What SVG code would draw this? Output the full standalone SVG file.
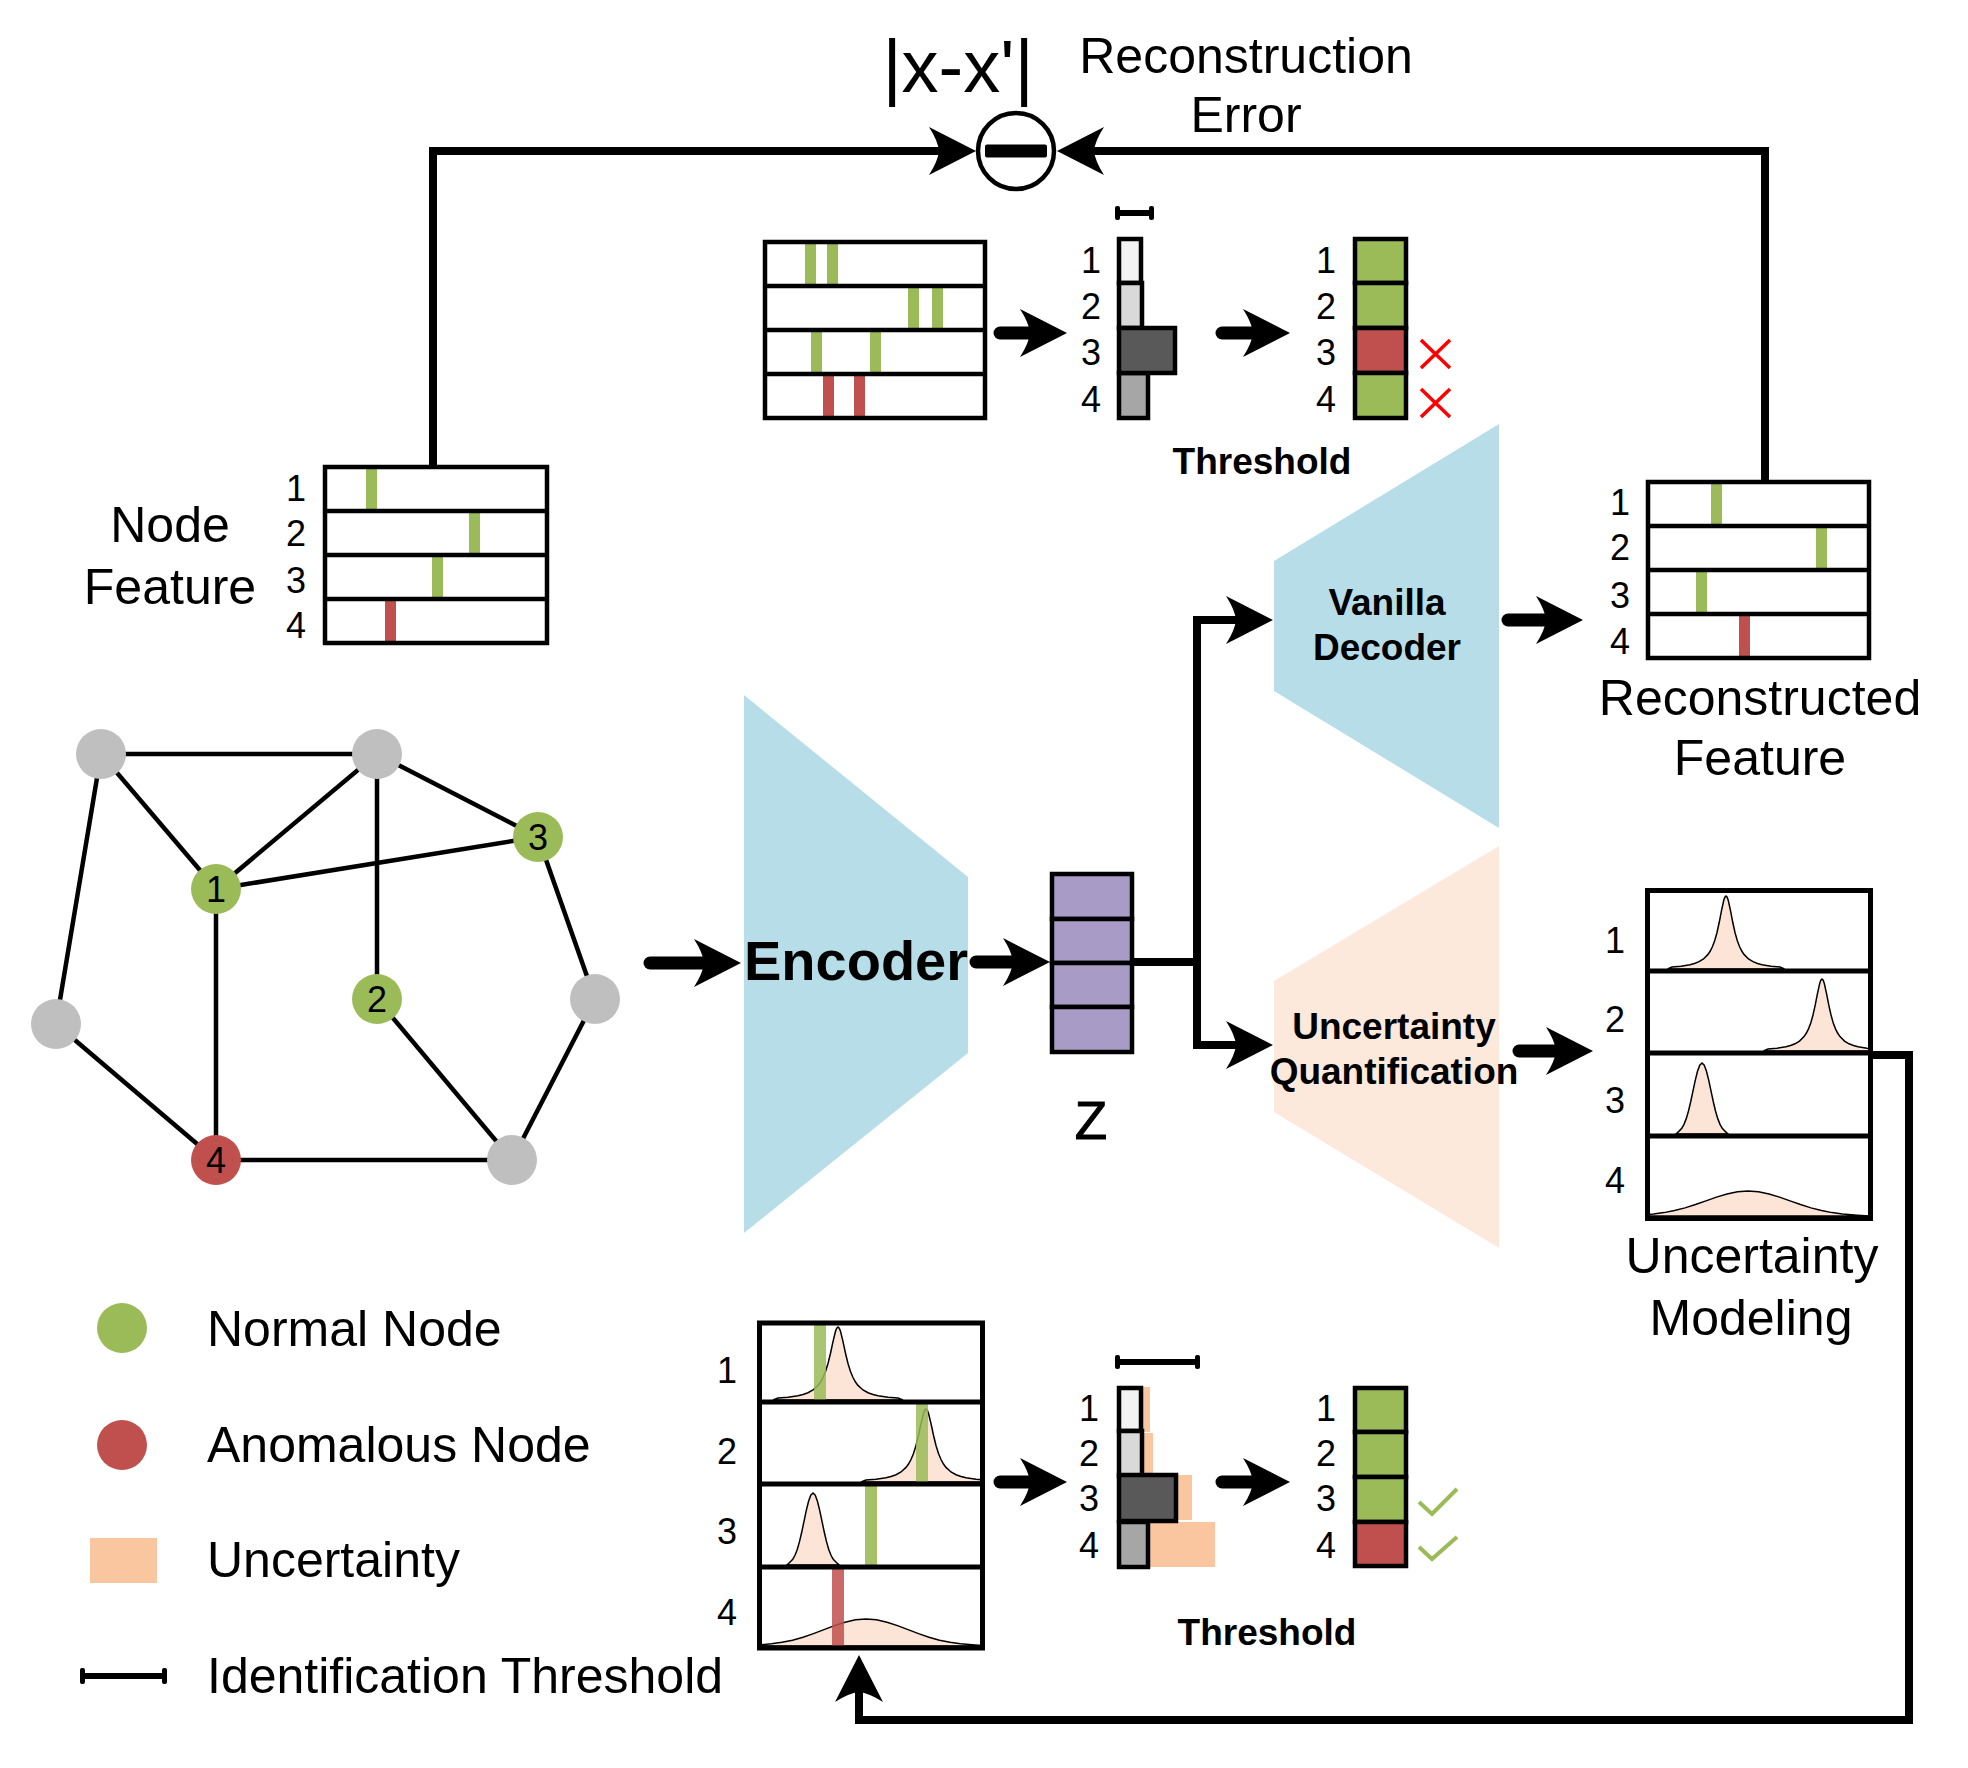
<svg xmlns="http://www.w3.org/2000/svg" xmlns:xlink="http://www.w3.org/1999/xlink" width="1968" height="1768" viewBox="0 0 1968 1768">
<style>
text{font-family:"Liberation Sans",Arial,sans-serif;fill:#000}
.lbl{font-size:50px}
.num{font-size:36px;text-anchor:middle}
.bold{font-weight:bold;font-size:37px;text-anchor:middle}
.box{fill:none;stroke:#000;stroke-width:4.5}
.row{stroke:#000;stroke-width:4.5}
.edge{stroke:#000;stroke-width:4.5}
.conn{fill:none;stroke:#000;stroke-width:8;stroke-linejoin:miter}
.blk{stroke:#000;stroke-width:13;stroke-linecap:round}
.g{fill:#9bbb59}
.r{fill:#c0504d}
.gray{fill:#bfbfbf}
.curve{fill:#fce4d6;stroke:#000;stroke-width:1.5}
.cell{stroke:#000;stroke-width:4.5}
.thr{stroke:#000;stroke-width:6}
</style>
<defs>
<path id="ah" d="M0,0 L-47,-24 Q-38,-10 -37,0 Q-38,10 -47,24 Z" fill="#000"/>
<path id="L" vector-effect="non-scaling-stroke" d="M-6.5,0 L-6,-0.027 L-5,-0.0385 L-4,-0.0588 L-3.5,-0.0755 L-3,-0.1 L-2.5,-0.1379 L-2,-0.2 L-1.75,-0.246 L-1.5,-0.3077 L-1.25,-0.3902 L-1,-0.5 L-0.75,-0.64 L-0.5,-0.8 L-0.25,-0.9412 L-0.125,-0.9846 L0,-1 L0.125,-0.9846 L0.25,-0.9412 L0.5,-0.8 L0.75,-0.64 L1,-0.5 L1.25,-0.3902 L1.5,-0.3077 L1.75,-0.246 L2,-0.2 L2.5,-0.1379 L3,-0.1 L3.5,-0.0755 L4,-0.0588 L5,-0.0385 L6,-0.027 L6.5,0 Z"/>
<path id="G" vector-effect="non-scaling-stroke" d="M-2.9,0 L-2.6,-0.034 L-2.25,-0.0796 L-2,-0.1353 L-1.75,-0.2163 L-1.5,-0.3247 L-1.25,-0.4578 L-1,-0.6065 L-0.75,-0.7548 L-0.5,-0.8825 L-0.25,-0.9692 L0,-1 L0.25,-0.9692 L0.5,-0.8825 L0.75,-0.7548 L1,-0.6065 L1.25,-0.4578 L1.5,-0.3247 L1.75,-0.2163 L2,-0.1353 L2.25,-0.0796 L2.6,-0.034 L2.9,0 Z"/>
<clipPath id="clipD"><rect x="760" y="1323" width="222" height="325"/></clipPath>
<clipPath id="clipU"><rect x="1648" y="891" width="222" height="327"/></clipPath>
</defs>

<!-- connectors -->
<g id="connectors">
  <path class="conn" d="M433,467 V151 H940"/>
  <use href="#ah" transform="translate(976,151)"/>
  <path class="conn" d="M1765,482 V151 H1090"/>
  <use href="#ah" transform="translate(1057,151) rotate(180)"/>
  <path class="conn" d="M1133,962 H1197"/>
  <path class="conn" d="M1240,620 H1197 V1045 H1240"/>
  <use href="#ah" transform="translate(1273,620)"/>
  <use href="#ah" transform="translate(1273,1045)"/>
  <path class="conn" d="M1871,1055 H1909 V1720 H859 V1690"/>
  <use href="#ah" transform="translate(859,1655) rotate(-90)"/>
  <!-- block arrows -->
  <line class="blk" x1="650" y1="963" x2="711" y2="963"/><use href="#ah" transform="translate(741,963)"/>
  <line class="blk" x1="976" y1="962" x2="1020" y2="962"/><use href="#ah" transform="translate(1050,962)"/>
  <line class="blk" x1="1000" y1="333" x2="1037" y2="333"/><use href="#ah" transform="translate(1067,333)"/>
  <line class="blk" x1="1222" y1="333" x2="1260" y2="333"/><use href="#ah" transform="translate(1290,333)"/>
  <line class="blk" x1="1508" y1="620" x2="1553" y2="620"/><use href="#ah" transform="translate(1583,620)"/>
  <line class="blk" x1="1519" y1="1051" x2="1563" y2="1051"/><use href="#ah" transform="translate(1593,1051)"/>
  <line class="blk" x1="1000" y1="1482" x2="1037" y2="1482"/><use href="#ah" transform="translate(1067,1482)"/>
  <line class="blk" x1="1222" y1="1482" x2="1260" y2="1482"/><use href="#ah" transform="translate(1290,1482)"/>
</g>

<!-- subtraction node -->
<g id="minus">
  <circle cx="1016" cy="151" r="38" fill="#fff" stroke="#000" stroke-width="4.5"/>
  <rect x="985" y="144.5" width="62" height="13" rx="2" fill="#000"/>
  <text x="958" y="92" font-size="74" text-anchor="middle">|x-x'|</text>
  <text class="lbl" x="1246" y="73" text-anchor="middle">Reconstruction</text>
  <text class="lbl" x="1246" y="132" text-anchor="middle">Error</text>
</g>

<!-- node feature -->
<g id="node-feature">
  <rect class="g" x="366" y="467" width="11" height="44"/>
  <rect class="g" x="469" y="511" width="11" height="44"/>
  <rect class="g" x="432" y="555" width="11" height="44"/>
  <rect class="r" x="385" y="599" width="11" height="44"/>
  <rect class="box" x="325" y="467" width="222" height="176"/>
  <line class="row" x1="325" y1="511" x2="547" y2="511"/>
  <line class="row" x1="325" y1="555" x2="547" y2="555"/>
  <line class="row" x1="325" y1="599" x2="547" y2="599"/>
  <text class="num" x="296" y="501">1</text>
  <text class="num" x="296" y="546">2</text>
  <text class="num" x="296" y="593">3</text>
  <text class="num" x="296" y="638">4</text>
  <text class="lbl" x="170" y="542" text-anchor="middle">Node</text>
  <text class="lbl" x="170" y="604" text-anchor="middle">Feature</text>
</g>

<!-- top error matrix -->
<g id="error-matrix">
  <rect class="g" x="805" y="242" width="11" height="44"/>
  <rect class="g" x="827" y="242" width="11" height="44"/>
  <rect class="g" x="908" y="286" width="11" height="44"/>
  <rect class="g" x="932" y="286" width="11" height="44"/>
  <rect class="g" x="811" y="330" width="11" height="44"/>
  <rect class="g" x="870" y="330" width="11" height="44"/>
  <rect class="r" x="823" y="374" width="11" height="44"/>
  <rect class="r" x="854" y="374" width="11" height="44"/>
  <rect class="box" x="765" y="242" width="220" height="176"/>
  <line class="row" x1="765" y1="286" x2="985" y2="286"/>
  <line class="row" x1="765" y1="330" x2="985" y2="330"/>
  <line class="row" x1="765" y1="374" x2="985" y2="374"/>
</g>

<!-- top threshold -->
<g id="threshold-top">
  <line class="thr" x1="1118" y1="213" x2="1151" y2="213"/>
  <rect x="1115" y="206" width="5" height="14" rx="2" fill="#000"/>
  <rect x="1149" y="206" width="5" height="14" rx="2" fill="#000"/>
  <rect class="cell" x="1119" y="239" width="22" height="44" fill="#f2f2f2"/>
  <rect class="cell" x="1119" y="283" width="23" height="45" fill="#d9d9d9"/>
  <rect class="cell" x="1119" y="373" width="29" height="45" fill="#a6a6a6"/>
  <rect class="cell" x="1119" y="328" width="56" height="45" fill="#595959"/>
  <text class="num" x="1091" y="273">1</text>
  <text class="num" x="1091" y="319">2</text>
  <text class="num" x="1091" y="365">3</text>
  <text class="num" x="1091" y="412">4</text>
  <text class="bold" x="1262" y="474">Threshold</text>
</g>

<!-- top result -->
<g id="result-top">
  <rect class="cell g" x="1355" y="239" width="51" height="44"/>
  <rect class="cell g" x="1355" y="283" width="51" height="45"/>
  <rect class="cell r" x="1355" y="328" width="51" height="45"/>
  <rect class="cell g" x="1355" y="373" width="51" height="45"/>
  <text class="num" x="1326" y="273">1</text>
  <text class="num" x="1326" y="319">2</text>
  <text class="num" x="1326" y="365">3</text>
  <text class="num" x="1326" y="412">4</text>
  <path d="M1421,340 L1450,368 M1450,340 L1421,368 M1421,389 L1450,417 M1450,389 L1421,417" stroke="#ff0000" stroke-width="3.5" fill="none"/>
</g>

<!-- graph -->
<g id="graph">
  <g class="edge">
    <line x1="101" y1="754" x2="377" y2="754"/>
    <line x1="101" y1="754" x2="216" y2="889"/>
    <line x1="101" y1="754" x2="56" y2="1024"/>
    <line x1="377" y1="754" x2="216" y2="889"/>
    <line x1="377" y1="754" x2="538" y2="837"/>
    <line x1="377" y1="754" x2="377" y2="999"/>
    <line x1="216" y1="889" x2="538" y2="837"/>
    <line x1="216" y1="889" x2="216" y2="1160"/>
    <line x1="538" y1="837" x2="595" y2="999"/>
    <line x1="56" y1="1024" x2="216" y2="1160"/>
    <line x1="216" y1="1160" x2="512" y2="1160"/>
    <line x1="377" y1="999" x2="512" y2="1160"/>
    <line x1="595" y1="999" x2="512" y2="1160"/>
  </g>
  <g id="n-tl"><circle class="gray" cx="101" cy="754" r="25"/></g>
  <g id="n-tm"><circle class="gray" cx="377" cy="754" r="25"/></g>
  <g id="n-l"><circle class="gray" cx="56" cy="1024" r="25"/></g>
  <g id="n-r"><circle class="gray" cx="595" cy="999" r="25"/></g>
  <g id="n-br"><circle class="gray" cx="512" cy="1160" r="25"/></g>
  <g id="n1"><circle class="g" cx="216" cy="889" r="25"/><text class="num" x="216" y="902">1</text></g>
  <g id="n2"><circle class="g" cx="377" cy="999" r="25"/><text class="num" x="377" y="1012">2</text></g>
  <g id="n3"><circle class="g" cx="538" cy="837" r="25"/><text class="num" x="538" y="850">3</text></g>
  <g id="n4"><circle class="r" cx="216" cy="1160" r="25"/><text class="num" x="216" y="1173">4</text></g>
</g>

<!-- encoder -->
<g id="encoder">
  <polygon points="744,695 968,877 968,1053 744,1233" fill="#b7dee8"/>
  <text x="856" y="980" font-size="56" font-weight="bold" text-anchor="middle">Encoder</text>
</g>

<!-- Z -->
<g id="z">
  <rect class="cell" x="1052" y="874" width="80" height="45" fill="#a89bc6"/>
  <rect class="cell" x="1052" y="919" width="80" height="44" fill="#a89bc6"/>
  <rect class="cell" x="1052" y="963" width="80" height="44" fill="#a89bc6"/>
  <rect class="cell" x="1052" y="1007" width="80" height="45" fill="#a89bc6"/>
  <text x="1091" y="1139" font-size="53" text-anchor="middle" stroke="#000" stroke-width="1">Z</text>
</g>

<!-- decoder -->
<g id="decoder">
  <polygon points="1274,561 1499,424 1499,828 1274,691" fill="#b7dee8"/>
  <text class="bold" x="1387" y="615">Vanilla</text>
  <text class="bold" x="1387" y="660">Decoder</text>
</g>

<!-- uncertainty quantification -->
<g id="uq">
  <polygon points="1274,981 1499,846 1499,1248 1274,1112" fill="#fde9dc"/>
  <text class="bold" x="1394" y="1039">Uncertainty</text>
  <text class="bold" x="1394" y="1084">Quantification</text>
</g>

<!-- reconstructed feature -->
<g id="recon">
  <rect class="g" x="1711" y="482" width="11" height="44"/>
  <rect class="g" x="1816" y="526" width="11" height="44"/>
  <rect class="g" x="1696" y="570" width="11" height="44"/>
  <rect class="r" x="1739" y="614" width="11" height="44"/>
  <rect class="box" x="1648" y="482" width="221" height="176"/>
  <line class="row" x1="1648" y1="526" x2="1869" y2="526"/>
  <line class="row" x1="1648" y1="570" x2="1869" y2="570"/>
  <line class="row" x1="1648" y1="614" x2="1869" y2="614"/>
  <text class="num" x="1620" y="515">1</text>
  <text class="num" x="1620" y="560">2</text>
  <text class="num" x="1620" y="608">3</text>
  <text class="num" x="1620" y="654">4</text>
  <text class="lbl" x="1760" y="715" text-anchor="middle">Reconstructed</text>
  <text class="lbl" x="1760" y="775" text-anchor="middle">Feature</text>
</g>

<!-- uncertainty modeling -->
<g id="um">
  <g clip-path="url(#clipU)">
    <use href="#L" class="curve" transform="translate(1726,969) scale(9,73)"/>
    <use href="#L" class="curve" transform="translate(1822,1051) scale(9,72)"/>
    <use href="#G" class="curve" transform="translate(1702,1134) scale(9,71)"/>
    <use href="#G" class="curve" transform="translate(1748,1216) scale(42,25)"/>
  </g>
  <rect x="1647.5" y="890.5" width="223" height="328" fill="none" stroke="#000" stroke-width="5"/>
  <line x1="1647.5" y1="971" x2="1870.5" y2="971" stroke="#000" stroke-width="5"/>
  <line x1="1647.5" y1="1053" x2="1870.5" y2="1053" stroke="#000" stroke-width="5"/>
  <line x1="1647.5" y1="1136" x2="1870.5" y2="1136" stroke="#000" stroke-width="5"/>
  <text class="num" x="1615" y="953">1</text>
  <text class="num" x="1615" y="1032">2</text>
  <text class="num" x="1615" y="1113">3</text>
  <text class="num" x="1615" y="1193">4</text>
  <text class="lbl" x="1752" y="1273" text-anchor="middle">Uncertainty</text>
  <text class="lbl" x="1751" y="1335" text-anchor="middle">Modeling</text>
</g>

<!-- distribution box bottom -->
<g id="dist">
  <g clip-path="url(#clipD)">
    <use href="#L" class="curve" transform="translate(838,1400) scale(10,73)"/>
    <use href="#L" class="curve" transform="translate(926,1482) scale(10,73)"/>
    <use href="#G" class="curve" transform="translate(813,1565) scale(9,72)"/>
    <use href="#G" class="curve" transform="translate(866,1646) scale(42,27)"/>
    <rect class="g" x="814" y="1323" width="12" height="79" opacity="0.85"/>
    <rect class="g" x="916" y="1402" width="12" height="82" opacity="0.85"/>
    <rect class="g" x="865" y="1484" width="12" height="83" opacity="0.9"/>
    <rect class="r" x="832" y="1567" width="12" height="81" opacity="0.85"/>
  </g>
  <rect x="759.5" y="1323" width="223" height="325" fill="none" stroke="#000" stroke-width="5"/>
  <line x1="759.5" y1="1402" x2="982.5" y2="1402" stroke="#000" stroke-width="5"/>
  <line x1="759.5" y1="1484" x2="982.5" y2="1484" stroke="#000" stroke-width="5"/>
  <line x1="759.5" y1="1567" x2="982.5" y2="1567" stroke="#000" stroke-width="5"/>
  <text class="num" x="727" y="1383">1</text>
  <text class="num" x="727" y="1464">2</text>
  <text class="num" x="727" y="1544">3</text>
  <text class="num" x="727" y="1625">4</text>
</g>

<!-- bottom threshold -->
<g id="threshold-bottom">
  <line class="thr" x1="1118" y1="1362" x2="1197" y2="1362"/>
  <rect x="1115" y="1355" width="5" height="14" rx="2" fill="#000"/>
  <rect x="1195" y="1355" width="5" height="14" rx="2" fill="#000"/>
  <rect x="1141" y="1387" width="9" height="45" fill="#f9c6a0"/>
  <rect x="1143" y="1433" width="10" height="41" fill="#f9c6a0"/>
  <rect x="1175" y="1475" width="17" height="45" fill="#f9c6a0"/>
  <rect x="1148" y="1522" width="67" height="45" fill="#f9c6a0"/>
  <rect class="cell" x="1119" y="1388" width="22" height="43" fill="#f2f2f2"/>
  <rect class="cell" x="1119" y="1431" width="23" height="45" fill="#d9d9d9"/>
  <rect class="cell" x="1119" y="1522" width="29" height="45" fill="#a6a6a6"/>
  <rect class="cell" x="1119" y="1475" width="57" height="46" fill="#595959"/>
  <text class="num" x="1089" y="1421">1</text>
  <text class="num" x="1089" y="1466">2</text>
  <text class="num" x="1089" y="1511">3</text>
  <text class="num" x="1089" y="1558">4</text>
  <text class="bold" x="1267" y="1645">Threshold</text>
</g>

<!-- bottom result -->
<g id="result-bottom">
  <rect class="cell g" x="1355" y="1388" width="51" height="44"/>
  <rect class="cell g" x="1355" y="1432" width="51" height="45"/>
  <rect class="cell g" x="1355" y="1477" width="51" height="45"/>
  <rect class="cell r" x="1355" y="1522" width="51" height="44"/>
  <text class="num" x="1326" y="1421">1</text>
  <text class="num" x="1326" y="1466">2</text>
  <text class="num" x="1326" y="1511">3</text>
  <text class="num" x="1326" y="1558">4</text>
  <path d="M1419,1502 L1432,1514 L1457,1489 M1419,1547 L1432,1559 L1457,1537" stroke="#9bbb59" stroke-width="4" fill="none"/>
</g>

<!-- legend -->
<g id="legend">
  <circle class="g" cx="122" cy="1328" r="25"/>
  <text class="lbl" x="207" y="1346">Normal Node</text>
  <circle class="r" cx="122" cy="1445" r="25"/>
  <text class="lbl" x="207" y="1462">Anomalous Node</text>
  <rect x="90" y="1538" width="67" height="45" fill="#f9c6a0"/>
  <text class="lbl" x="207" y="1577">Uncertainty</text>
  <line class="thr" x1="83" y1="1676" x2="164" y2="1676"/>
  <rect x="80" y="1668" width="5" height="16" rx="2" fill="#000"/>
  <rect x="162" y="1668" width="5" height="16" rx="2" fill="#000"/>
  <text class="lbl" x="207" y="1693">Identification Threshold</text>
</g>
</svg>
